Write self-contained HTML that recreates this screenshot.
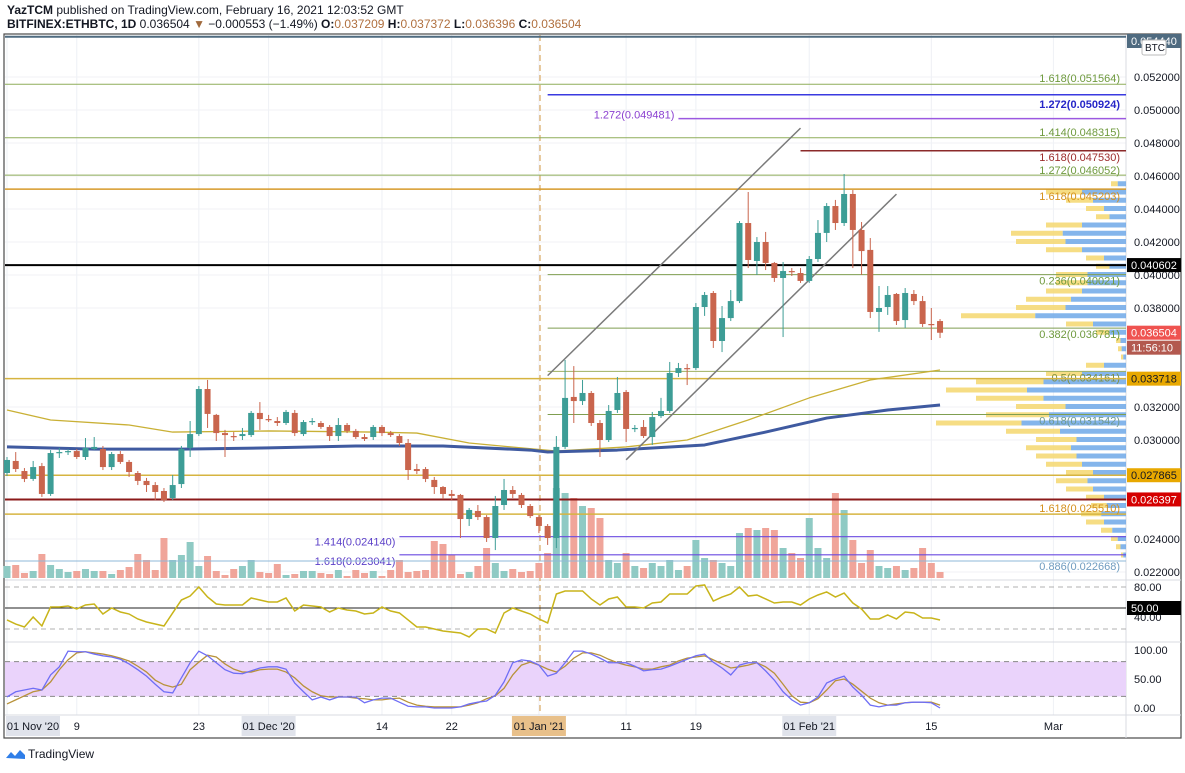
<!DOCTYPE html>
<html><head><meta charset="utf-8"><style>
body{margin:0;background:#fff;width:1185px;height:768px;overflow:hidden;font-family:"Liberation Sans",sans-serif}
svg text{font-family:"Liberation Sans",sans-serif}
</style></head><body>
<svg id="c" width="1185" height="768" xmlns="http://www.w3.org/2000/svg">
<text x="7" y="14" font-size="12" fill="#131722"><tspan font-weight="bold">YazTCM</tspan> published on TradingView.com, February 16, 2021 12:03:52 GMT</text>
<text x="7" y="28" font-size="12" fill="#131722"><tspan font-weight="bold">BITFINEX:ETHBTC, 1D</tspan> 0.036504 <tspan fill="#a0693c">▼</tspan> −0.000553 (−1.49%) <tspan font-weight="bold">O:</tspan><tspan fill="#b0703f">0.037209</tspan> <tspan font-weight="bold">H:</tspan><tspan fill="#b0703f">0.037372</tspan> <tspan font-weight="bold">L:</tspan><tspan fill="#b0703f">0.036396</tspan> <tspan font-weight="bold">C:</tspan><tspan fill="#b0703f">0.036504</tspan></text>
<g id="g"></g>
</svg>
<script>
const open=[.02800,.02873,.02812,.02764,.02842,.02673,.02921,.02927,.02933,.02897,.02945,.02945,.02836,.02915,.02867,.02800,.02752,.02727,.02691,.02648,.02733,.02952,.03036,.03309,.03152,.03042,.03024,.03024,.03030,.03164,.03127,.03115,.03103,.03164,.03036,.03109,.03103,.03079,.03024,.03091,.03055,.03018,.03018,.03079,.03042,.03024,.02982,.02824,.02824,.02758,.02715,.02673,.02667,.02521,.02570,.02533,.02406,.02606,.02697,.02667,.02600,.02533,.02479,.02406,.02958,.03261,.03236,.03285,.03103,.03000,.03182,.03291,.03067,.03079,.03018,.03145,.03176,.03406,.03436,.03436,.03806,.03891,.03600,.03739,.03842,.04315,.04085,.04200,.04073,.03982,.04024,.04012,.03964,.04097,.04255,.04418,.04315,.04491,.04273,.04152,.03776,.03806,.03885,.03727,.03885,.03842,.03703,.03721];
const high=[.02897,.02927,.02830,.02873,.02861,.02939,.02952,.02945,.02945,.03012,.03018,.02964,.02927,.02933,.02879,.02812,.02770,.02745,.02709,.02788,.02964,.03115,.03327,.03364,.03158,.03061,.03048,.03073,.03176,.03230,.03152,.03139,.03182,.03182,.03121,.03133,.03115,.03091,.03133,.03103,.03067,.03036,.03091,.03091,.03055,.03036,.03006,.02855,.02836,.02776,.02721,.02697,.02673,.02588,.02606,.02545,.02661,.02764,.02721,.02679,.02612,.02545,.02491,.03024,.03485,.03448,.03364,.03297,.03121,.03212,.03382,.03303,.03091,.03121,.03170,.03255,.03473,.03467,.03461,.03830,.03897,.03903,.03812,.03909,.04327,.04503,.04230,.04261,.04079,.04079,.04042,.04042,.04115,.04333,.04436,.04455,.04612,.04515,.04321,.04224,.03933,.03933,.03891,.03921,.03909,.03873,.03800,.03733];
const low=[.02782,.02806,.02745,.02752,.02655,.02661,.02891,.02909,.02885,.02879,.02939,.02818,.02818,.02855,.02776,.02727,.02685,.02636,.02624,.02636,.02709,.02897,.03024,.03073,.02994,.02897,.02994,.03000,.03018,.03061,.03109,.03085,.03091,.03024,.03024,.03091,.03067,.02994,.02994,.03042,.03006,.02994,.03000,.03024,.03018,.02964,.02758,.02794,.02745,.02673,.02642,.02636,.02406,.02479,.02515,.02382,.02333,.02576,.02648,.02588,.02527,.02436,.02364,.02345,.02945,.03103,.03212,.03085,.02897,.02988,.03164,.02988,.03048,.03012,.02970,.03133,.03164,.03382,.03333,.03424,.03752,.03558,.03533,.03721,.03830,.04042,.04000,.04030,.03958,.03624,.03994,.03952,.03952,.04079,.04200,.04273,.04297,.04042,.04000,.03739,.03655,.03758,.03697,.03679,.03818,.03685,.03606,.03618];
const close=[.02879,.02824,.02764,.02836,.02673,.02921,.02927,.02933,.02897,.02952,.02958,.02836,.02915,.02867,.02806,.02752,.02727,.02685,.02636,.02727,.02945,.03036,.03309,.03158,.03042,.03030,.03018,.03036,.03164,.03127,.03121,.03103,.03170,.03042,.03109,.03115,.03079,.03024,.03091,.03055,.03018,.03006,.03079,.03042,.03030,.02982,.02818,.02812,.02764,.02715,.02673,.02661,.02521,.02576,.02533,.02406,.02600,.02697,.02673,.02606,.02539,.02479,.02406,.02958,.03255,.03236,.03285,.03103,.03000,.03176,.03285,.03067,.03073,.03024,.03139,.03176,.03406,.03436,.03430,.03806,.03879,.03600,.03739,.03842,.04315,.04091,.04200,.04073,.03982,.04024,.04018,.03964,.04097,.04255,.04418,.04315,.04491,.04273,.04145,.03776,.03800,.03879,.03721,.03891,.03842,.03703,.03697,.03650];
const volume=[12,13,5,7,24,13,9,6,7,9,7,7,4,8,11,24,18,8,40,18,23,36,12,22,7,3,9,12,18,6,5,14,3,4,7,7,5,4,8,2,8,5,7,2,8,18,6,7,8,37,34,23,4,6,12,30,15,7,9,6,7,15,25,90,85,80,72,70,60,18,15,25,12,10,15,12,18,8,12,38,20,18,15,12,45,50,48,50,48,30,25,20,60,30,20,85,68,38,15,28,12,10,12,8,10,30,15,6];
const rsi=[32.9,27.1,22.9,37.1,24.3,51.4,51.4,52.9,48.6,54.3,55.7,41.4,50,44.3,41.4,34.3,30,27.1,24.3,42.9,61.4,67.1,80,65.7,55.7,54.3,54.3,54.3,64.3,61.4,58.6,58.6,64.3,45.7,54.3,52.9,51.4,44.3,50,47.1,45.7,41.4,42.9,51.4,45.7,42.9,32.9,22.9,22.9,20,17.1,15.7,14.3,8.6,20,20,14.3,42.9,50,45.7,41.4,34.3,28.6,70,74.3,74.3,74.3,62.9,54.3,62.9,65.7,51.4,51.4,50,57.1,58.6,70,70,70,81.4,82.9,60,65.7,70,80,67.1,68.6,62.9,57.1,58.6,58.6,54.3,62.9,68.6,72.9,65.7,71.4,57.1,48.6,34.3,34.3,40,34.3,44.3,42.9,35.7,35.7,32.9];
const stochK=[19,28,31,34,31,57,71,98,97,97,93,90,88,84,76,66,55,41,28,26,52,78,98,90,78,66,60,59,64,69,71,71,67,43,28,14,19,14,19,19,19,9,14,17,17,10,3,2,2,0,0,0,2,7,10,12,22,45,78,83,81,74,55,60,78,98,98,93,86,78,78,78,72,64,66,67,72,78,84,90,93,79,69,57,74,78,78,64,48,28,14,5,9,19,43,50,55,36,22,5,2,5,5,9,10,10,9,0];
const stochD=[7,14,21,28,31,45,66,83,95,97,95,93,90,86,81,72,62,48,40,36,41,66,79,91,88,76,67,62,62,66,67,67,62,52,38,28,21,19,19,19,17,16,14,14,16,17,10,5,3,2,2,2,2,5,9,16,21,34,57,74,79,74,67,62,72,86,95,95,91,84,78,74,71,67,67,71,74,81,86,88,90,83,76,69,71,74,78,71,60,41,21,10,9,16,31,47,50,41,29,17,9,5,7,9,10,10,10,5];
const maSlowIdx=[0,10,20,30,40,50,60,62,70,80,87,94,101,107];
const maSlow=[.02958,.02945,.02945,.02952,.02964,.02964,.02939,.02927,.02939,.02970,.03048,.03133,.03182,.03212];
const maFastIdx=[0,5,14,19,30,42,47,53,59,63,71,78,85,92,99,107];
const maFast=[.03182,.03121,.03091,.03048,.03055,.03048,.03042,.02982,.02952,.02933,.02958,.03000,.03121,.03255,.03364,.03424];
const priceTicks=[0.052,0.050,0.048,0.046,0.044,0.042,0.040,0.038,0.032,0.030,0.024,0.022];
const dateLabels=["01 Nov '20","9","23","01 Dec '20","14","22","01 Jan '21","11","19","01 Feb '21","15","Mar"];
const dateIdx=[0,8,22,30,43,51,61,71,79,92,106,120];
const profPrice=[.0455,.045,.0445,.044,.0435,.043,.0425,.042,.0415,.041,.0405,.040,.0395,.039,.0385,.038,.0375,.037,.0365,.036,.0355,.035,.0345,.034,.0335,.033,.0325,.032,.0315,.031,.0305,.030,.0295,.029,.0285,.028,.0275,.027,.0265,.026,.0255,.025,.0245,.024,.0235,.023];
const profVol=[15,80,60,40,30,80,115,110,80,40,30,70,70,80,100,110,165,60,30,10,8,5,40,80,150,180,150,110,140,190,120,90,100,90,80,60,70,60,40,35,45,40,25,15,10,5];
const levels=[
[0.05444,"#4f6b80",2,-1,"",0],
[0.051564,"#8fae5a",1,-1,"1.618(0.051564)",-6,"#6f9a3e"],
[0.050924,"#3a3ae0",1.5,62,"1.272(0.050924)",9,"#2626c8"],
[0.049481,"#9b58e0",1.5,77,"1.272(0.049481)",-4,"#8a3fd0","left"],
[0.048315,"#8fae5a",1,-1,"1.414(0.048315)",-6,"#6f9a3e"],
[0.04753,"#8b2a2a",1.5,91,"1.618(0.047530)",6,"#9c2b2b"],
[0.046052,"#8fae5a",1,-1,"1.272(0.046052)",-5,"#6f9a3e"],
[0.045203,"#d69a2a",1.5,-1,"1.618(0.045203)",7,"#d4901c"],
[0.040602,"#000000",2,-1,"",0],
[0.040021,"#7f9e50",1,62,"0.236(0.040021)",6,"#6f9a3e"],
[0.036781,"#7f9e50",1,62,"0.382(0.036781)",6,"#6f9a3e"],
[0.034161,"#9fb060",1,62,"0.5(0.034161)",6,"#7f8f3e"],
[0.033718,"#d6b440",1.5,-1,"",0],
[0.031542,"#7f9e50",1,62,"0.618(0.031542)",6,"#6f9a8e"],
[0.027865,"#d6b440",1.5,-1,"",0],
[0.026397,"#8b1a1a",2,-1,"",0],
[0.02551,"#d6b440",1.5,-1,"1.618(0.025510)",-6,"#d4901c"],
[0.02414,"#6a4ae0",1.2,45,"1.414(0.024140)",5,"#5b3fc8","left"],
[0.023041,"#6a4ae0",1.2,45,"1.618(0.023041)",6,"#5b3fc8","left"],
[0.022668,"#8fb8d8",1,-1,"0.886(0.022668)",5,"#6f9cc0"]];
const channels=[[62,0.0339,91,0.0489],[71,0.0288,102,0.0449]];

const NS="http://www.w3.org/2000/svg",G=document.getElementById('g');
const X=i=>7+8.72*i, Y=p=>77+(0.052-p)*16500;
const RY=v=>608-(v-50)*0.7, SY=v=>708-v*0.58, R=1126;
function mk(t,a,par){const e=document.createElementNS(NS,t);for(const k in a)e.setAttribute(k,a[k]);(par||G).appendChild(e);return e;}
function txt(x,y,s,a){const e=mk('text',Object.assign({x,y,'font-size':11,fill:'#131722'},a||{}));e.textContent=s;return e;}
let e=mk('rect',{x:4,y:34,width:1177,height:704,fill:'none',stroke:'#4a4a4a','stroke-width':1.2});

dateIdx.forEach(d=>{mk('line',{x1:X(d),x2:X(d),y1:35,y2:715,stroke:'#eef0f5'});});
priceTicks.forEach(p=>{mk('line',{x1:5,x2:R,y1:Y(p),y2:Y(p),stroke:'#f0f2f6'});});
[580,642,715].forEach(y=>mk('line',{x1:5,x2:1181,y1:y,y2:y,stroke:'#d8dbe2'}));
mk('line',{x1:R,x2:R,y1:35,y2:738,stroke:'#d8dbe2'});
profPrice.forEach((p,k)=>{const w=profVol[k];const y=Y(p)-3;
 const a=mk('rect',{x:R-w,y,width:w*0.45,height:5,fill:'#f5d76e',opacity:0.85});
 const b=mk('rect',{x:R-w*0.55,y,width:w*0.55,height:5,fill:'#6fa8e8',opacity:0.85});});
mk('line',{x1:540,x2:540,y1:35,y2:715,stroke:'#d9a860','stroke-dasharray':'6,4','stroke-width':1.2});
volume.forEach((v,i)=>{const up=close[i]>=open[i];const b=mk('rect',{x:X(i)-3.5,y:578-v,width:7,height:v,fill:up?'#8fcac4':'#f0a59a'});
 });
levels.forEach(L=>{const y=Y(L[0]);const x1=L[3]<0?5:X(L[3]);const ln=mk('line',{x1,x2:R,y1:y,y2:y,stroke:L[1],'stroke-width':L[2]});
 
 if(L[4]){const left=L[7]==='left';const t=txt(left?x1-4:1120,y+L[5]+4,L[4],{'text-anchor':'end',fill:L[6],'font-weight':L[6]==='#2626c8'?'bold':'normal'});
 }});
function poly(idx,vals,col,w,name){const pts=idx.map((d,k)=>X(d)+','+Y(vals[k])).join(' ');const p=mk('polyline',{points:pts,fill:'none',stroke:col,'stroke-width':w,'stroke-linejoin':'round'});
 }
poly(maFastIdx,maFast,'#c9b035',1.3,'ma-fast');
poly(maSlowIdx,maSlow,'#3f5aa0',3,'ma-slow');
channels.forEach(c=>{const l=mk('line',{x1:X(c[0]),y1:Y(c[1]),x2:X(c[2]),y2:Y(c[3]),stroke:'#7a7a7a','stroke-width':1.5});
 });
open.forEach((o,i)=>{const c=close[i],up=c>=o,col=up?'#3d9d96':'#c9654d',x=X(i);
 const g=mk('g',{});
 mk('line',{x1:x,x2:x,y1:Y(high[i]),y2:Y(low[i]),stroke:col,'stroke-width':1},g);
 const t=Y(Math.max(o,c)),b=Y(Math.min(o,c));mk('rect',{x:x-3,y:t,width:6,height:Math.max(1.2,b-t),fill:col},g);});
priceTicks.forEach(p=>{const t=txt(1134,Y(p)+4,p.toFixed(6));});
function box(p,y,bg,fg,s,name){const r=mk('rect',{x:1127,y:y-7,width:54,height:14,fill:bg});
 txt(1131,y+4,s,{fill:fg});}
box(0.05444,41,'#4f6b80','#fff','0.054440','top-price-label');
mk('rect',{x:1142,y:40,width:24,height:15,fill:'#fff',stroke:'#bbb',rx:2});txt(1145,51,'BTC',{'font-size':10});
box(0.040602,Y(0.040602),'#000','#fff','0.040602','level-label');
box(0.036504,Y(0.036504),'#ef5350','#fff','0.036504','last-price-label');
box(0,Y(0.036504)+15,'#b3594f','#fff','11:56:10','countdown-label');
box(0.033718,Y(0.033718),'#e8a800','#131722','0.033718','level-label');
box(0.027865,Y(0.027865),'#e8a800','#131722','0.027865','level-label');
box(0.026397,Y(0.026397),'#d50000','#fff','0.026397','level-label');
[80,20].forEach(v=>mk('line',{x1:5,x2:R,y1:RY(v),y2:RY(v),stroke:'#b0b0b0','stroke-dasharray':'5,4'}));
mk('line',{x1:5,x2:R,y1:RY(50),y2:RY(50),stroke:'#222','stroke-width':1});
e=mk('polyline',{points:rsi.map((v,i)=>X(i)+','+RY(v)).join(' '),fill:'none',stroke:'#c8b41a','stroke-width':1.5});

txt(1134,RY(80)+4,'80.00');txt(1134,RY(37)+4,'40.00');
mk('rect',{x:1127,y:RY(50)-7,width:54,height:14,fill:'#000'});txt(1131,RY(50)+4,'50.00',{fill:'#fff'});
mk('rect',{x:5,y:SY(80),width:R-5,height:SY(20)-SY(80),fill:'#ead3fb'});
[80,20].forEach(v=>mk('line',{x1:5,x2:R,y1:SY(v),y2:SY(v),stroke:'#888','stroke-dasharray':'5,4'}));
e=mk('polyline',{points:stochD.map((v,i)=>X(i)+','+SY(v)).join(' '),fill:'none',stroke:'#b8923a','stroke-width':1.3});

e=mk('polyline',{points:stochK.map((v,i)=>X(i)+','+SY(v)).join(' '),fill:'none',stroke:'#6f6ef5','stroke-width':1.3});

txt(1134,SY(100)+4,'100.00');txt(1134,SY(50)+4,'50.00');txt(1134,SY(0)+4,'0.00');
dateLabels.forEach((s,k)=>{let x=X(dateIdx[k]);const big=s.length>3;
 if(big&&x<33)x=33;
 if(big){const r=mk('rect',{x:x-27,y:716,width:54,height:20,fill:s.indexOf('Jan')>=0?'#e8c08a':'#e0e3eb'});}
 const t=txt(x,730,s,{'text-anchor':'middle'});});
e=mk('path',{d:'M6 758 l5 -6 l4 4 l5 -6 l5 5 v4 z',fill:'#2f7ee8'});
txt(28,758,'TradingView',{'font-size':12});
</script>
</body></html>
